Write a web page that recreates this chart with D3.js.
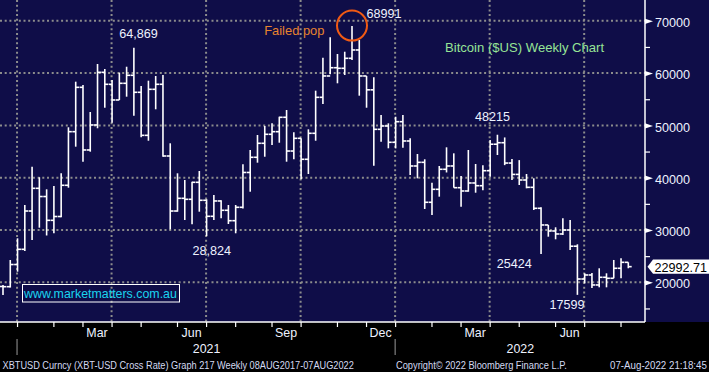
<!DOCTYPE html>
<html>
<head>
<meta charset="utf-8">
<script src="https://cdn.jsdelivr.net/npm/d3@7"></script>
<style>
  body { margin: 0; background: #000; }
  svg { display: block; font-family: "Liberation Sans", Arial, sans-serif; }
</style>
</head>
<body>
<div id="chart"></div>
<script>
const width = 709;
const height = 372;

// weekly bars (week ending Sunday), XBTUSD
const dates = [
  "2020-12-13", "2020-12-20", "2020-12-27",
  "2021-01-03", "2021-01-10", "2021-01-17", "2021-01-24", "2021-01-31",
  "2021-02-07", "2021-02-14", "2021-02-21", "2021-02-28",
  "2021-03-07", "2021-03-14", "2021-03-21", "2021-03-28",
  "2021-04-04", "2021-04-11", "2021-04-18", "2021-04-25",
  "2021-05-02", "2021-05-09", "2021-05-16", "2021-05-23", "2021-05-30",
  "2021-06-06", "2021-06-13", "2021-06-20", "2021-06-27",
  "2021-07-04", "2021-07-11", "2021-07-18", "2021-07-25",
  "2021-08-01", "2021-08-08", "2021-08-15", "2021-08-22", "2021-08-29",
  "2021-09-05", "2021-09-12", "2021-09-19", "2021-09-26",
  "2021-10-03", "2021-10-10", "2021-10-17", "2021-10-24", "2021-10-31",
  "2021-11-07", "2021-11-14", "2021-11-21", "2021-11-28",
  "2021-12-05", "2021-12-12", "2021-12-19", "2021-12-26",
  "2022-01-02", "2022-01-09", "2022-01-16", "2022-01-23", "2022-01-30",
  "2022-02-06", "2022-02-13", "2022-02-20", "2022-02-27",
  "2022-03-06", "2022-03-13", "2022-03-20", "2022-03-27",
  "2022-04-03", "2022-04-10", "2022-04-17", "2022-04-24",
  "2022-05-01", "2022-05-08", "2022-05-15", "2022-05-22", "2022-05-29",
  "2022-06-05", "2022-06-12", "2022-06-19", "2022-06-26",
  "2022-07-03", "2022-07-10", "2022-07-17", "2022-07-24", "2022-07-31",
  "2022-08-07"
];

const opens = [
  19200, 19160, 23400, 26310, 33630, 37970, 36400, 31850, 32580, 38550,
  48800, 57280, 45300, 50080, 60150, 57860, 54860, 58050, 59580, 56330,
  48100, 56900, 57860, 44150, 33630, 36060, 35870, 39120, 35680, 32620,
  35550, 33770, 31780, 34340, 41000, 43900, 46580, 48300, 48800, 51550,
  45100, 47530, 43520, 48490, 55370, 59450, 61030, 60920, 62830, 64420,
  59450, 56800, 49250, 49890, 46770, 50710, 47020, 42240, 42940, 35300,
  37780, 41610, 42240, 38090, 37460, 38990, 38470, 41340, 46400, 46690,
  42800, 40630, 39560, 38160, 34150, 30960, 29810, 29240, 30000, 26900,
  20630, 21400, 19490, 20960, 20770, 22680, 23820
];
const highs = [
  19480, 24260, 28410, 34780, 42100, 40080, 37780, 38410, 40840, 49640,
  58360, 57720, 52560, 61740, 60780, 58680, 60080, 61220, 64869, 57530,
  58550, 59450, 59640, 46580, 40840, 39560, 39230, 41280, 35870, 36690,
  35700, 34780, 34780, 42560, 45300, 48160, 49890, 50400, 51660, 52940,
  48680, 47530, 49250, 56640, 62940, 66840, 63650, 64090, 68991, 66320,
  59450, 59200, 52000, 50400, 51660, 51990, 47530, 44530, 43520, 39040,
  42240, 45810, 44660, 40320, 45300, 42620, 42400, 47210, 48215, 47700,
  43560, 43360, 40710, 39880, 34340, 30960, 30520, 32240, 31910, 27270,
  21720, 21780, 22680, 21720, 24270, 24590, 23820
];
const lows = [
  17570, 19000, 22030, 26000, 28090, 30440, 28950, 29370, 32430, 38090,
  45930, 43060, 44970, 49450, 53380, 50520, 54860, 55490, 51850, 47720,
  47070, 53080, 44010, 30130, 33500, 31910, 31090, 33500, 28824, 31910,
  32240, 31150, 29370, 34100, 37320, 42870, 44010, 46250, 46690, 43060,
  43520, 39690, 40710, 47070, 54090, 59800, 58050, 59640, 62500, 55680,
  53380, 42290, 46880, 45620, 45600, 45740, 40520, 39880, 34020, 32870,
  36370, 41000, 38090, 34460, 37320, 37130, 37600, 40190, 44340, 42400,
  39540, 38600, 37970, 33820, 25424, 28720, 28220, 29040, 26180, 17599,
  19810, 18900, 19040, 19040, 20770, 20770, 22680
];
const closes = [
  19160, 23400, 26310, 33630, 37970, 36400, 31850, 32580, 38550, 48800,
  57280, 45300, 50080, 60150, 57860, 54860, 58050, 59580, 56330, 48100,
  56900, 57860, 44150, 33630, 36060, 35870, 39120, 35680, 32620, 35550,
  33770, 31780, 34340, 41000, 43900, 46580, 48300, 48800, 51550, 45100,
  47530, 43520, 48490, 55370, 59450, 61030, 60920, 62830, 64420, 59450,
  56800, 49250, 49890, 46770, 50710, 47020, 42240, 42940, 35300, 37780,
  41610, 42240, 38090, 37460, 38990, 38470, 41340, 46400, 46690, 42800,
  40630, 39560, 38160, 34150, 30960, 29810, 29240, 30000, 26900, 20630,
  21400, 19490, 20960, 20770, 22680, 23820, 22992.71
];

const yTicks = [20000, 30000, 40000, 50000, 60000, 70000];
const yMinorTicks = [15000, 25000, 35000, 45000, 55000, 65000];
const monthLabels = [
  { month: "2021-03", label: "Mar" }, { month: "2021-06", label: "Jun" },
  { month: "2021-09", label: "Sep" }, { month: "2021-12", label: "Dec" },
  { month: "2022-03", label: "Mar" }, { month: "2022-06", label: "Jun" }
];
const years = ["2021", "2022"];
const lastPrice = 22992.71;

const notes = [
  { text: "64,869", i: 18, v: 64869, dx: 4.6, dy: -9.3, anchor: "middle" },
  { text: "68991", i: 48, v: 68991, dx: 14.6, dy: -7.8, anchor: "start" },
  { text: "48215", i: 68, v: 48215, dx: -22.4, dy: -14, anchor: "start" },
  { text: "28,824", i: 28, v: 28824, dx: -14, dy: 18.8, anchor: "start" },
  { text: "25424", i: 74, v: 25424, dx: -44.3, dy: 14.4, anchor: "start" },
  { text: "17599", i: 79, v: 17599, dx: -28, dy: 14.4, anchor: "start" }
];

const footerTexts = [
  { text: "XBTUSD Curncy (XBT-USD Cross Rate) Graph 217  Weekly 08AUG2017-07AUG2022", x: 2.5, w: 352 },
  { text: "Copyright\u00a9 2022 Bloomberg Finance L.P.", x: 396, w: 171 },
  { text: "07-Aug-2022 21:18:45", x: 610, w: 97 }
];

const plotRight = 645;
const plotBottom = 322;

const parse = d3.timeParse("%Y-%m-%d");
const bars = dates.map((d, i) => ({
  i, date: parse(d), o: opens[i], h: highs[i], l: lows[i], c: closes[i]
}));

const x = d3.scaleLinear().domain([0, bars.length - 1]).range([3, 628.3]);
const y = d3.scaleLinear().domain([20000, 70000]).range([282.3, 20.8]);

// month tick = last bar dated before the 1st of the month
function monthTick(monthStart) {
  const first = bars.findIndex(b => b.date >= monthStart);
  return first - 1;
}
const monthStarts = d3.timeMonth.range(new Date(2021, 0, 1), new Date(2022, 7, 2));
const monthTicks = monthStarts.map(m => ({ m, i: monthTick(m) })).filter(d => d.i >= 0);
const quarterTicks = monthTicks.filter(d => d.m.getMonth() % 3 === 0);

const svg = d3.select("#chart").append("svg")
  .attr("width", width)
  .attr("height", height);

svg.append("rect").attr("width", width).attr("height", height).attr("fill", "#000");
svg.append("rect").attr("width", width).attr("height", plotBottom).attr("fill", "#0f0d48");

// grid
const grid = svg.append("g")
  .attr("stroke", "#8c8c8c")
  .attr("stroke-width", 2)
  .attr("stroke-dasharray", "2,2.7");
grid.selectAll("line.h").data(yTicks).enter().append("line")
  .attr("class", "h")
  .attr("x1", 0).attr("x2", plotRight)
  .attr("y1", d => y(d)).attr("y2", d => y(d));
grid.selectAll("line.v").data(quarterTicks).enter().append("line")
  .attr("class", "v")
  .attr("x1", d => x(d.i) - 0.5).attr("x2", d => x(d.i) - 0.5)
  .attr("y1", 0).attr("y2", plotBottom);

// OHLC bars
const tick = 3.4;
const barG = svg.append("g").attr("stroke", "#fff").attr("stroke-width", 1.6);
barG.selectAll("line.hl").data(bars).enter().append("line")
  .attr("x1", d => x(d.i)).attr("x2", d => x(d.i))
  .attr("y1", d => y(d.h)).attr("y2", d => y(d.l));
barG.selectAll("line.o").data(bars).enter().append("line")
  .attr("x1", d => x(d.i) - tick).attr("x2", d => x(d.i))
  .attr("y1", d => y(d.o)).attr("y2", d => y(d.o));
barG.selectAll("line.c").data(bars).enter().append("line")
  .attr("x1", d => x(d.i)).attr("x2", d => x(d.i) + tick)
  .attr("y1", d => y(d.c)).attr("y2", d => y(d.c));

// right axis
svg.append("line")
  .attr("x1", plotRight).attr("x2", plotRight)
  .attr("y1", 0).attr("y2", plotBottom)
  .attr("stroke", "#fff").attr("stroke-width", 1.5);

const yMinor = svg.append("g")
  .attr("transform", `translate(${plotRight},0)`)
  .call(d3.axisRight(y).tickValues(yMinorTicks).tickSize(5).tickFormat(""));
yMinor.select(".domain").remove();
yMinor.selectAll("line").attr("stroke", "#fff").attr("stroke-width", 1.2);

const yMajor = svg.append("g")
  .attr("transform", `translate(${plotRight},0)`)
  .call(d3.axisRight(y).tickValues(yTicks).tickSize(0).tickPadding(10).tickFormat(d3.format("d")));
yMajor.select(".domain").remove();
yMajor.selectAll("text")
  .attr("fill", "#eef2ff")
  .attr("font-size", "12.6px")
  .attr("font-family", "Liberation Sans, Arial, sans-serif")
  .attr("dy", "0.45em");
yMajor.selectAll(".tick").append("path")
  .attr("d", "M0,-2.6L8,0L0,2.6Z")
  .attr("fill", "#fff");

// last price flag
const ly = y(lastPrice);
svg.append("path")
  .attr("d", `M647.5,${ly}L653,${ly - 7.2}L709,${ly - 7.2}L709,${ly + 7.2}L653,${ly + 7.2}Z`)
  .attr("fill", "#fff");
svg.append("text")
  .attr("x", 654.5).attr("y", ly + 5)
  .attr("font-size", "12.6px")
  .attr("fill", "#000")
  .text(d3.format(".2f")(lastPrice));

// bottom axis
svg.append("line")
  .attr("x1", 0).attr("x2", plotRight)
  .attr("y1", plotBottom).attr("y2", plotBottom)
  .attr("stroke", "#fff").attr("stroke-width", 1.5);

const xAxis = svg.append("g")
  .attr("transform", `translate(0,${plotBottom})`)
  .call(d3.axisBottom(x).tickValues(monthTicks.map(d => d.i - 0.07)).tickSize(5).tickFormat(""));
xAxis.select(".domain").remove();
xAxis.selectAll("line").attr("stroke", "#fff").attr("stroke-width", 1.2);

monthLabels.forEach(ml => {
  const k = monthTicks.findIndex(d => d3.timeFormat("%Y-%m")(d.m) === ml.month);
  const x0 = x(monthTicks[k].i);
  const x1 = x(monthTicks[k + 1].i);
  svg.append("text")
    .attr("x", (x0 + x1) / 2 - 0.5).attr("y", 336.7)
    .attr("text-anchor", "middle")
    .attr("font-size", "12.4px")
    .attr("fill", "#eef2ff")
    .text(ml.label);
});

const yearTicks = monthTicks.filter(d => d.m.getMonth() === 0);
svg.selectAll("line.year").data(yearTicks).enter().append("line")
  .attr("x1", d => x(d.i) - 0.5).attr("x2", d => x(d.i) - 0.5)
  .attr("y1", 339).attr("y2", 355)
  .attr("stroke", "#9a9a9a").attr("stroke-width", 1);
years.forEach((yr, k) => {
  const x0 = x(yearTicks[k].i);
  const x1 = k + 1 < yearTicks.length ? x(yearTicks[k + 1].i) : plotRight;
  svg.append("text")
    .attr("x", (x0 + x1) / 2).attr("y", 352.7)
    .attr("text-anchor", "middle")
    .attr("font-size", "12.4px")
    .attr("fill", "#eef2ff")
    .text(yr);
});

// annotations
svg.selectAll("text.note").data(notes).enter().append("text")
  .attr("class", "note")
  .attr("x", d => x(d.i) + d.dx)
  .attr("y", d => y(d.v) + d.dy)
  .attr("text-anchor", d => d.anchor)
  .attr("font-size", "12.6px")
  .attr("fill", "#eef2ff")
  .text(d => d.text);

const peak = bars[48];
svg.append("circle")
  .attr("cx", x(peak.i)).attr("cy", y(peak.h) - 0.5)
  .attr("r", 15)
  .attr("fill", "none")
  .attr("stroke", "#f05a14")
  .attr("stroke-width", 2);
svg.append("text")
  .attr("x", x(peak.i) - 87.8).attr("y", y(peak.h) + 9)
  .attr("font-size", "12.9px")
  .attr("fill", "#e8832e")
  .text("Failed pop");

svg.append("text")
  .attr("x", 445).attr("y", 51.5)
  .attr("font-size", "13.1px")
  .attr("fill", "#96e496")
  .text("Bitcoin ($US) Weekly Chart");

// watermark box
svg.append("rect")
  .attr("x", 22.5).attr("y", 284.5)
  .attr("width", 157).attr("height", 17.5)
  .attr("fill", "none")
  .attr("stroke", "#fff").attr("stroke-width", 1);
svg.append("text")
  .attr("x", 24).attr("y", 298)
  .attr("font-size", "12.4px")
  .attr("fill", "#1ad4ef")
  .text("www.marketmatters.com.au");

// footer: Bloomberg's font is narrow, so squeeze each line horizontally
svg.selectAll("text.footer").data(footerTexts).enter().append("text")
  .attr("class", "footer")
  .attr("font-size", "11px")
  .attr("fill", "#d4daf2")
  .text(d => d.text)
  .each(function (d) {
    const sx = d.w / this.getComputedTextLength();
    d3.select(this).attr("transform", `translate(${d.x},369) scale(${sx},1)`);
  });
</script>
</body>
</html>
